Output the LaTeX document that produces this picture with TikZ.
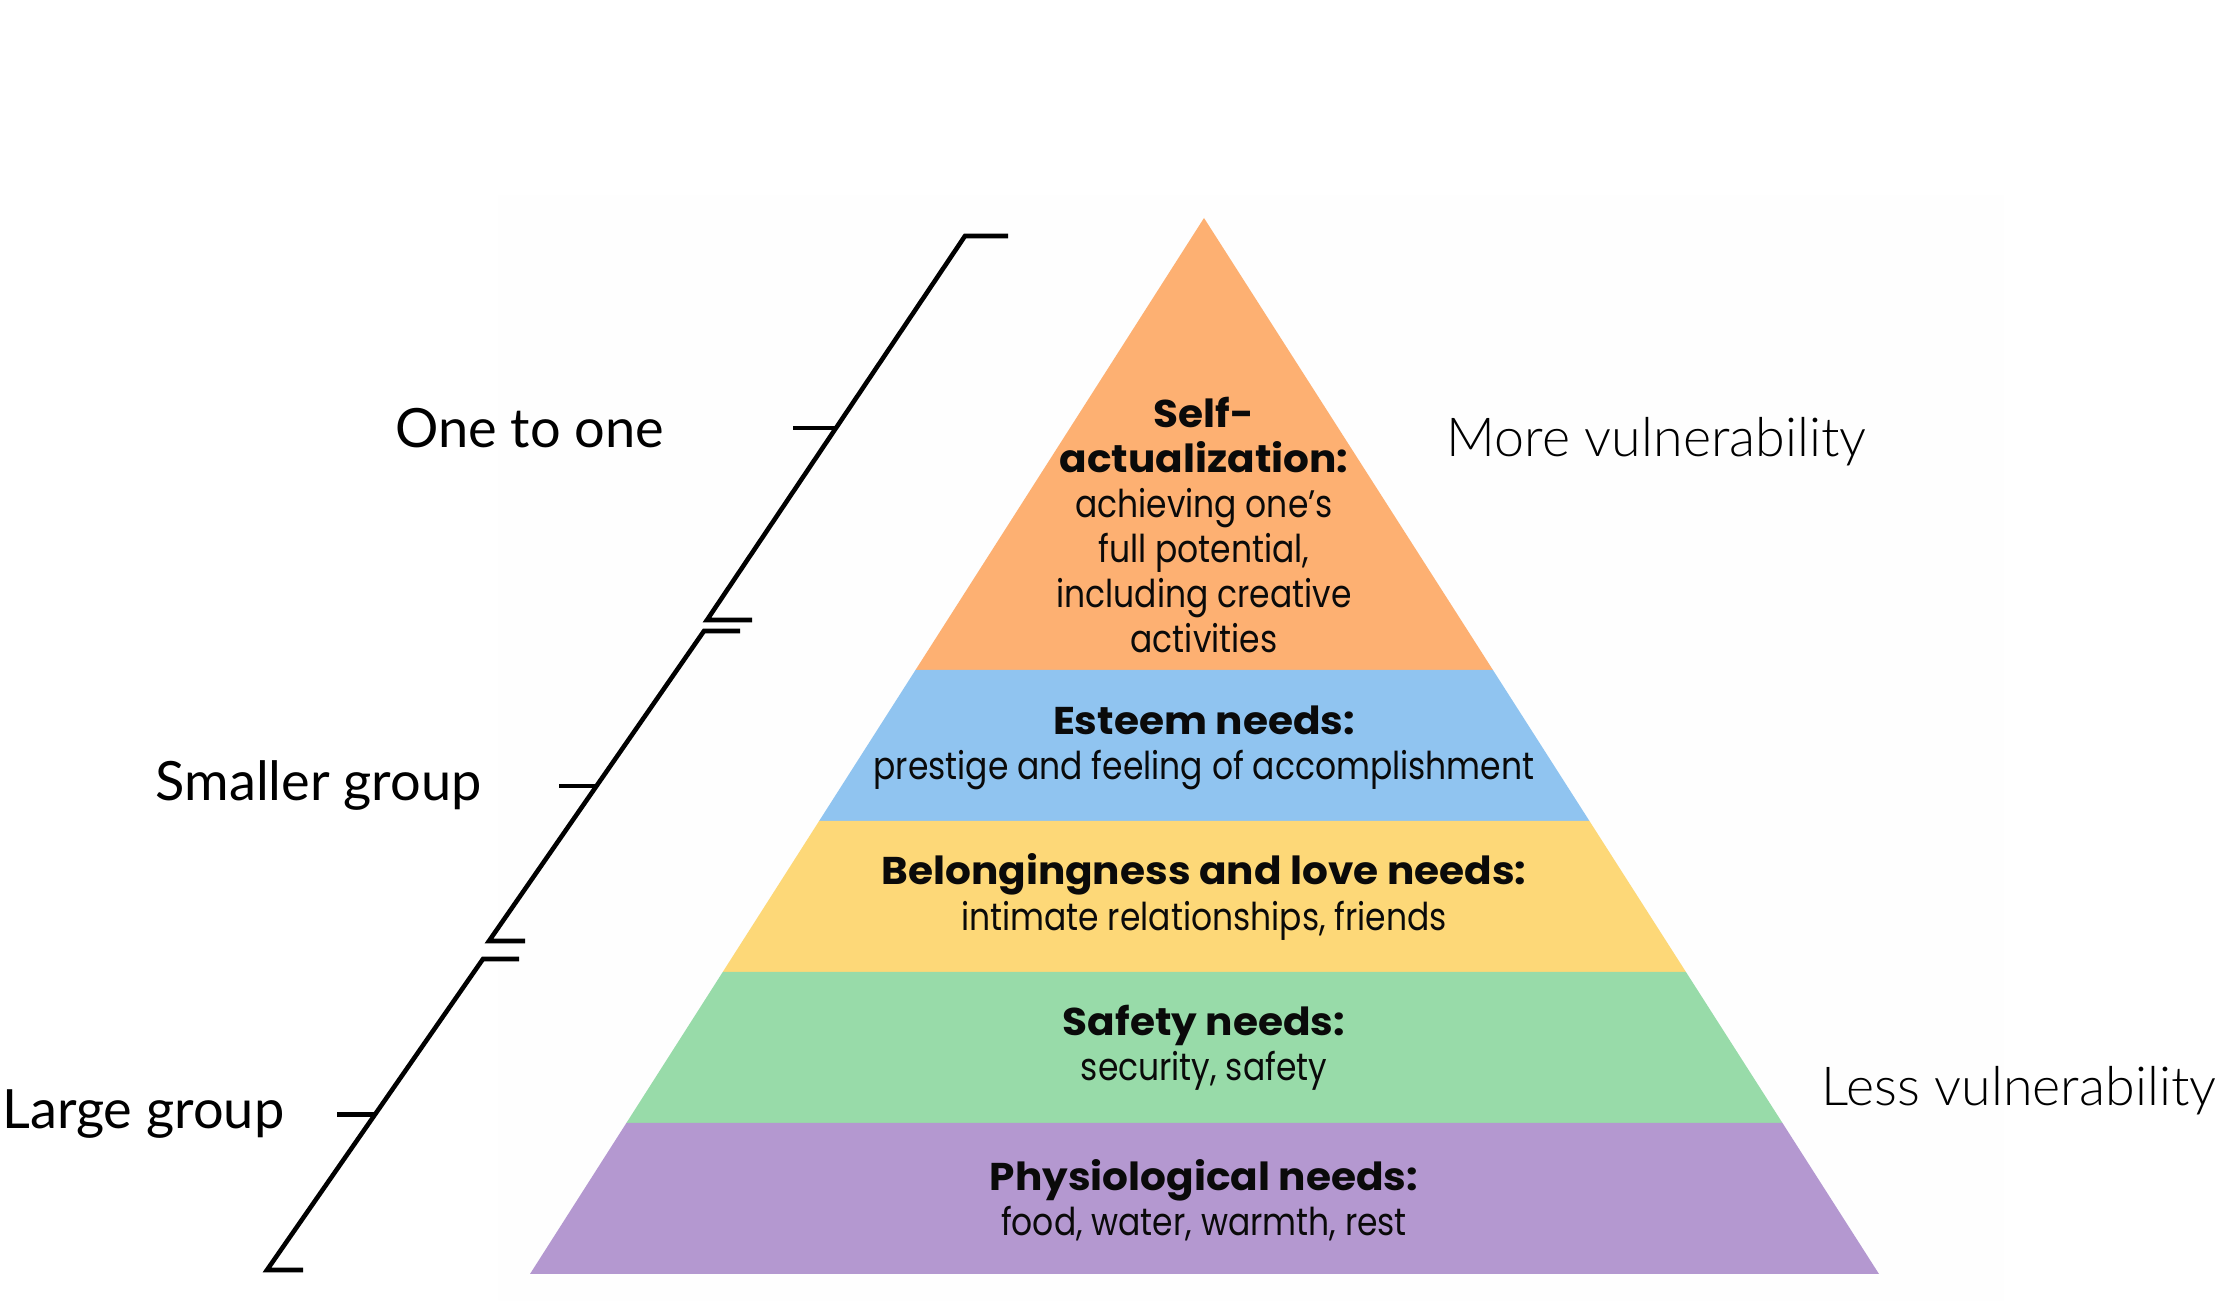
\documentclass[tikz,border=0pt]{standalone}
\usepackage{fontspec}
\usepackage{tikz}
\usetikzlibrary{calc,positioning}
\newfontfamily\mhTierFont{Poppins}[FakeStretch=0.86]
\newfontfamily\mhHeadFont{Poppins}[FakeStretch=1.05]
\newfontfamily\mhGroupFont{Lato}
\newfontfamily\mhVulnFont{Lato Light}
\newcommand{\mhHead}[1]{{\mhHeadFont\bfseries\fontsize{11}{12.8}\selectfont #1}}
\definecolor{mhInk}{HTML}{0A0A0A}
\definecolor{mhCanvas}{HTML}{FEFEFE}
\definecolor{mhSelf}{HTML}{FDB072}
\definecolor{mhEsteem}{HTML}{90C4F0}
\definecolor{mhLove}{HTML}{FDD878}
\definecolor{mhSafety}{HTML}{98DBA9}
\definecolor{mhBody}{HTML}{B498D0}
\tikzset{
  mh canvas/.style={fill=mhCanvas},
  mh tier/.style={draw=none},
  mh tier text/.style={
    align=center, text=mhInk, inner sep=0pt,
    font=\mhTierFont\fontsize{10.9}{12.8}\selectfont
  },
  mh bracket/.style={draw=black, line width=1.3pt, line join=miter},
  mh group label/.style={font=\mhGroupFont\fontsize{15.4}{19}\selectfont, text=black, inner sep=0pt},
  mh vuln label/.style={font=\mhVulnFont\fontsize{15.3}{18}\selectfont, text=black, inner sep=0pt, anchor=west}
}
\begin{document}
\begin{tikzpicture}[x=0.01cm,y=-0.01cm]
  \useasboundingbox (0,0) rectangle (2229,1301);
  \path[mh canvas] (498,195) rectangle (2004,1301);

  % pyramid
  \coordinate (apex) at (1204,218);
  \coordinate (baseL) at (530,1274);
  \coordinate (baseR) at (1879,1274);
  \coordinate (selfL) at ($(apex)!.428!(baseL)$);
  \coordinate (selfR) at ($(apex)!.428!(baseR)$);
  \coordinate (esteemL) at ($(apex)!.571!(baseL)$);
  \coordinate (esteemR) at ($(apex)!.571!(baseR)$);
  \coordinate (loveL) at ($(apex)!.714!(baseL)$);
  \coordinate (loveR) at ($(apex)!.714!(baseR)$);
  \coordinate (safetyL) at ($(apex)!.857!(baseL)$);
  \coordinate (safetyR) at ($(apex)!.857!(baseR)$);

  \fill[mh tier, mhSelf] (apex) -- (selfR) -- (selfL) -- cycle;
  \fill[mh tier, mhEsteem] (selfL) -- (selfR) -- (esteemR) -- (esteemL) -- cycle;
  \fill[mh tier, mhLove] (esteemL) -- (esteemR) -- (loveR) -- (loveL) -- cycle;
  \fill[mh tier, mhSafety] (loveL) -- (loveR) -- (safetyR) -- (safetyL) -- cycle;
  \fill[mh tier, mhBody] (safetyL) -- (safetyR) -- (baseR) -- (baseL) -- cycle;

  \node[mh tier text] (selfText) at (1204,525)
    {\mhHead{Self-}\\\mhHead{actualization:}\\achieving one’s\\full potential,\\including creative\\activities};
  \node[mh tier text] (esteemText) at (1204,748)
    {\mhHead{Esteem needs:}\\prestige and feeling of accomplishment};
  \node[mh tier text] (loveText) at (1204,897)
    {\mhHead{Belongingness and love needs:}\\intimate relationships, friends};
  \node[mh tier text] (safetyText) at (1204,1048)
    {\mhHead{Safety needs:}\\security, safety};
  \node[mh tier text] (bodyText) at (1204,1200)
    {\mhHead{Physiological needs:}\\food, water, warmth, rest};

  % brackets
  \coordinate (oneTop) at (965,236);
  \coordinate (oneTopEnd) at (1008,236);
  \coordinate (oneBot) at (707,620);
  \coordinate (oneBotEnd) at (752,620);
  \coordinate (oneMid) at ($(oneTop)!.5!(oneBot)$);
  \coordinate (oneMidEnd) at ($(oneMid)+(-43,0)$);
  \draw[mh bracket] (oneTopEnd) -- (oneTop) -- (oneBot) -- (oneBotEnd);
  \draw[mh bracket] (oneMid) -- (oneMidEnd);

  \coordinate (smallTop) at (704,631);
  \coordinate (smallTopEnd) at (740,631);
  \coordinate (smallBot) at (489,941);
  \coordinate (smallBotEnd) at (525,941);
  \coordinate (smallMid) at ($(smallTop)!.5!(smallBot)$);
  \coordinate (smallMidEnd) at ($(smallMid)+(-38,0)$);
  \draw[mh bracket] (smallTopEnd) -- (smallTop) -- (smallBot) -- (smallBotEnd);
  \draw[mh bracket] (smallMid) -- (smallMidEnd);

  \coordinate (largeTop) at (483,959);
  \coordinate (largeTopEnd) at (519,959);
  \coordinate (largeBot) at (267,1270);
  \coordinate (largeBotEnd) at (303,1270);
  \coordinate (largeMid) at ($(largeTop)!.5!(largeBot)$);
  \coordinate (largeMidEnd) at ($(largeMid)+(-38,0)$);
  \draw[mh bracket] (largeTopEnd) -- (largeTop) -- (largeBot) -- (largeBotEnd);
  \draw[mh bracket] (largeMid) -- (largeMidEnd);

  \node[mh group label, left=1.28cm of oneMidEnd] (oneLabel) {One to one};
  \node[mh group label, left=0.76cm of smallMidEnd] (smallLabel) {Smaller group};
  \node[mh group label, left=0.52cm of largeMidEnd] (largeLabel) {Large group};

  \node[mh vuln label] (moreLabel) at (1446,442) {More vulnerability};
  \node[mh vuln label] (lessLabel) at (1821,1091) {Less vulnerability};
\end{tikzpicture}
\end{document}
